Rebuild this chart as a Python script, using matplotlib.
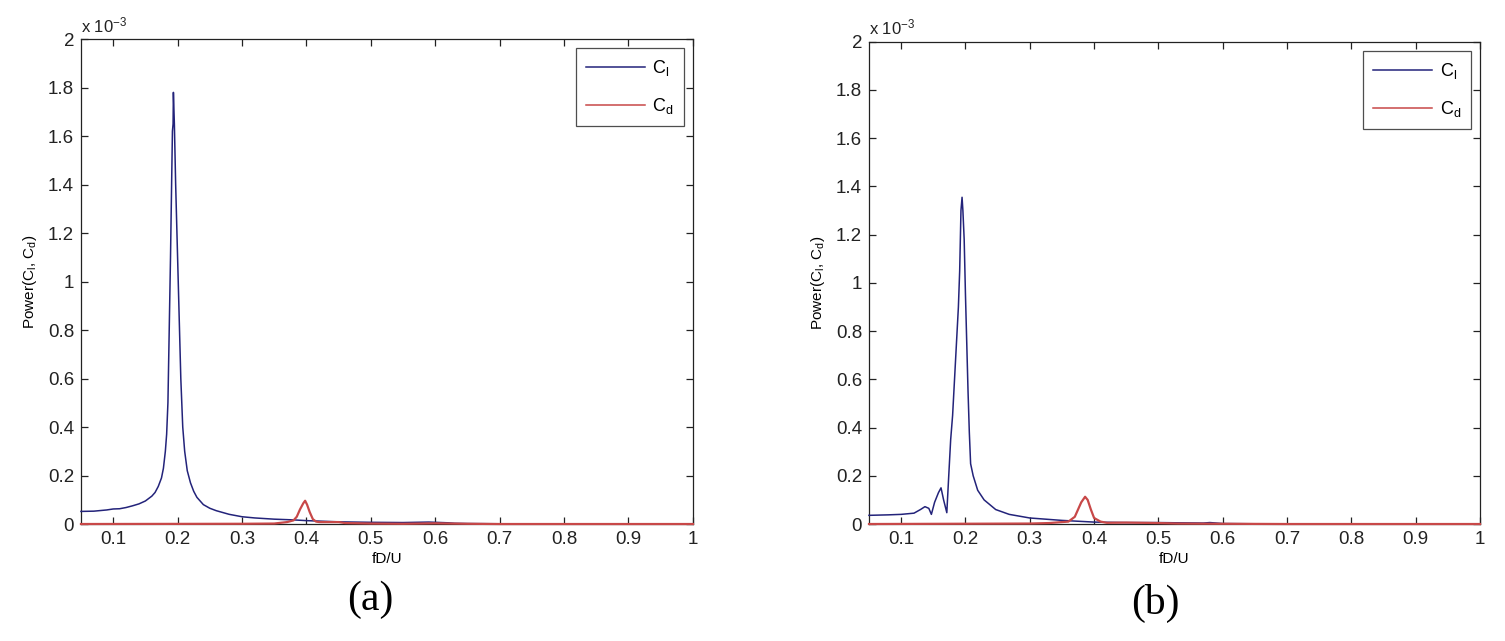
import matplotlib
matplotlib.use('Agg')
import matplotlib.pyplot as plt

# values, power in units of 1e-3
# panel (a)
fa_cl = [0.05, 0.07, 0.09, 0.10, 0.11, 0.12, 0.13, 0.14, 0.15, 0.16, 0.165, 0.17,
         0.175, 0.178, 0.181, 0.183, 0.185, 0.187, 0.189, 0.191, 0.192, 0.193,
         0.1935, 0.195, 0.197, 0.199, 0.201, 0.203, 0.205, 0.208, 0.211, 0.215,
         0.22, 0.225, 0.23, 0.24, 0.25, 0.26, 0.28, 0.30, 0.32, 0.35, 0.38, 0.40,
         0.43, 0.45, 0.50, 0.55, 0.59, 0.60, 0.62, 0.63, 0.65, 0.70, 0.80, 0.90, 1.0]
pa_cl = [0.052, 0.053, 0.058, 0.062, 0.063, 0.068, 0.075, 0.083, 0.095, 0.115, 0.13, 0.155,
         0.19, 0.23, 0.30, 0.37, 0.50, 0.80, 1.10, 1.45, 1.62, 1.65,
         1.78, 1.65, 1.40, 1.20, 1.00, 0.80, 0.60, 0.40, 0.30, 0.22,
         0.17, 0.135, 0.11, 0.08, 0.065, 0.055, 0.04, 0.03, 0.025, 0.02, 0.017, 0.014,
         0.011, 0.009, 0.007, 0.006, 0.008, 0.007, 0.005, 0.003, 0.002, 0.001, 0.0, 0.0, 0.0]

fa_cd = [0.05, 0.30, 0.35, 0.37, 0.38, 0.385, 0.39, 0.395, 0.398, 0.401, 0.405, 0.41,
         0.415, 0.42, 0.45, 0.46, 0.50, 0.55, 0.60, 0.65, 0.70, 1.0]
pa_cd = [0.0, 0.001, 0.002, 0.008, 0.015, 0.03, 0.06, 0.085, 0.096, 0.08, 0.05, 0.02,
         0.01, 0.008, 0.008, 0.004, 0.002, 0.001, 0.003, 0.001, 0.0, 0.0]

# panel (b)
fb_cl = [0.05, 0.08, 0.10, 0.12, 0.13, 0.137, 0.143, 0.147, 0.152, 0.158, 0.162, 0.166,
         0.171, 0.174, 0.177, 0.180, 0.183, 0.186, 0.189, 0.191, 0.193, 0.1947,
         0.196, 0.198, 0.200, 0.202, 0.204, 0.206, 0.208, 0.212, 0.219, 0.229,
         0.247, 0.268, 0.30, 0.35, 0.40, 0.45, 0.50, 0.53, 0.57, 0.58, 0.60, 0.70, 0.85, 1.0]
pb_cl = [0.036, 0.038, 0.040, 0.045, 0.060, 0.072, 0.065, 0.040, 0.09, 0.13, 0.15, 0.10,
         0.047, 0.20, 0.35, 0.45, 0.60, 0.75, 0.90, 1.05, 1.30, 1.355,
         1.30, 1.18, 0.95, 0.75, 0.55, 0.38, 0.25, 0.20, 0.14, 0.10,
         0.06, 0.04, 0.025, 0.015, 0.008, 0.006, 0.006, 0.005, 0.004, 0.006, 0.002, 0.0, 0.0, 0.0]

fb_cd = [0.05, 0.30, 0.33, 0.36, 0.37, 0.375, 0.38, 0.386, 0.39, 0.395, 0.40, 0.41,
         0.42, 0.45, 0.50, 0.53, 0.60, 0.70, 1.0]
pb_cd = [0.0, 0.002, 0.004, 0.01, 0.03, 0.06, 0.09, 0.113, 0.10, 0.06, 0.025, 0.01,
         0.005, 0.006, 0.004, 0.002, 0.001, 0.0, 0.0]

xticks = [0.1, 0.2, 0.3, 0.4, 0.5, 0.6, 0.7, 0.8, 0.9, 1.0]
xticklabels = ['0.1', '0.2', '0.3', '0.4', '0.5', '0.6', '0.7', '0.8', '0.9', '1']
yticks = [0, 0.2, 0.4, 0.6, 0.8, 1.0, 1.2, 1.4, 1.6, 1.8, 2.0]
yticklabels = ['0', '0.2', '0.4', '0.6', '0.8', '1', '1.2', '1.4', '1.6', '1.8', '2']

plt.rcParams['font.family'] = ['Liberation Sans Narrow', 'Liberation Sans', 'DejaVu Sans']
plt.rcParams['mathtext.default'] = 'regular'

BLUE = '#23237a'
RED = '#c84848'


def draw_panel(ax, f_cl, p_cl, f_cd, p_cd):
    ax.plot(f_cl, p_cl, color=BLUE, lw=1.1, label=r'C$_l$', zorder=3, clip_on=False)
    ax.plot(f_cd, p_cd, color=RED, lw=1.6, label=r'C$_d$', zorder=3, clip_on=False)
    ax.set_xlim(0.05, 1.0)
    ax.set_ylim(0, 2.0)
    ax.set_xticks(xticks)
    ax.set_xticklabels(xticklabels)
    ax.set_yticks(yticks)
    ax.set_yticklabels(yticklabels)
    ax.tick_params(direction='in', top=True, right=True, length=5, width=0.9,
                   labelsize=13.5, colors='#222222', pad=5)
    for s in ax.spines.values():
        s.set_linewidth(0.9)
        s.set_color('#222222')
    ax.set_xlabel('fD/U', fontsize=11, labelpad=3)
    ax.set_ylabel(r'Power(C$_l$, C$_d$)', fontsize=11, labelpad=6)
    ax.text(0.0, 1.008, r'x 10$^{-3}$', transform=ax.transAxes, fontsize=12,
            ha='left', va='bottom', color='#222222')
    leg = ax.legend(loc='upper right', bbox_to_anchor=(0.985, 0.981), fontsize=13,
                    frameon=True, fancybox=False, edgecolor='#222222',
                    handlelength=3.3, labelspacing=1.0, borderpad=0.55,
                    handletextpad=0.4, borderaxespad=0.0)
    leg.get_frame().set_linewidth(0.9)
    for line in leg.get_lines():
        line.set_linewidth(1.1)


fig = plt.figure(figsize=(15.05, 6.41), dpi=100)
ax1 = fig.add_axes([0.0538, 0.1825, 0.4066, 0.7566])
ax2 = fig.add_axes([0.5774, 0.1825, 0.4060, 0.7524])

draw_panel(ax1, fa_cl, pa_cl, fa_cd, pa_cd)
draw_panel(ax2, fb_cl, pb_cl, fb_cd, pb_cd)

fig.text(370 / 1505, 1 - 600 / 641, '(a)', fontsize=30, family='Liberation Serif',
         ha='center', va='center')
fig.text(1155 / 1505, 1 - 603 / 641, '(b)', fontsize=30, family='Liberation Serif',
         ha='center', va='center')

fig.savefig('out.png', dpi=100)
